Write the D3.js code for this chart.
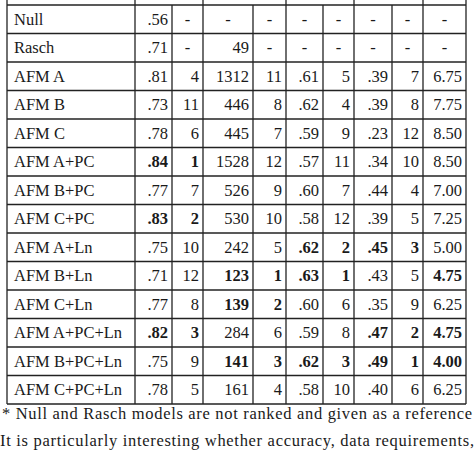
<!DOCTYPE html>
<html><head><meta charset="utf-8">
<script src="https://cdn.jsdelivr.net/npm/d3@7"></script>
<style>body{margin:0;background:#fff}svg{display:block}</style>
</head><body>
<svg id="c" width="474" height="474"></svg>
<script>
const models = ["Null","Rasch","AFM A","AFM B","AFM C","AFM A+PC","AFM B+PC","AFM C+PC","AFM A+Ln","AFM B+Ln","AFM C+Ln","AFM A+PC+Ln","AFM B+PC+Ln","AFM C+PC+Ln"]
const accuracy = [".56",".71",".81",".73",".78",".84",".77",".83",".75",".71",".77",".82",".75",".78"]
const accRank = ["-","-","4","11","6","1","7","2","10","12","8","3","9","5"]
const params = ["-","49","1312","446","445","1528","526","530","242","123","139","284","141","161"]
const paramRank = ["-","-","11","8","7","12","9","10","5","1","2","6","3","4"]
const auc = ["-","-",".61",".62",".59",".57",".60",".58",".62",".63",".60",".59",".62",".58"]
const aucRank = ["-","-","5","4","9","11","7","12","2","1","6","8","3","10"]
const kappa = ["-","-",".39",".39",".23",".34",".44",".39",".45",".43",".35",".47",".49",".40"]
const kappaRank = ["-","-","7","8","12","10","4","5","3","5","9","2","1","6"]
const avgRank = ["-","-","6.75","7.75","8.50","8.50","7.00","7.25","5.00","4.75","6.25","4.75","4.00","6.25"]
// bold cells: [row, col]
const bold = [[5,1],[5,2],[7,1],[7,2],[8,5],[8,6],[8,7],[8,8],[9,3],[9,4],[9,5],[9,6],[9,9],[10,3],[10,4],[11,1],[11,2],[11,7],[11,8],[11,9],[12,3],[12,4],[12,5],[12,6],[12,7],[12,8],[12,9]]
const footnote = "* Null and Rasch models are not ranked and given as a reference"
const bodyText = "It is particularly interesting whether accuracy, data requirements,"

const cols = [models, accuracy, accRank, params, paramRank, auc, aucRank, kappa, kappaRank, avgRank]
const colEdges = [7,135,172,203,253,286,323,354,392,423,466]
const svg = d3.select("#c")
const y = d3.scaleLinear().domain([0, models.length]).range([5, 404])
const boldSet = new Set(bold.map(d => d.join(",")))
const font = "'Liberation Serif','Times New Roman',serif"
const g = svg.append("g").attr("stroke","#222").attr("stroke-width",1.3)

// header stub
g.append("line").attr("x1",colEdges[0]).attr("x2",colEdges[10]).attr("y1",-1).attr("y2",-1)
;[0,1,3,5,7,9,10].forEach(i => g.append("line").attr("x1",colEdges[i]).attr("x2",colEdges[i]).attr("y1",-1).attr("y2",y(0)))
d3.range(models.length+1).forEach(r => g.append("line").attr("x1",colEdges[0]).attr("x2",colEdges[10]).attr("y1",y(r)).attr("y2",y(r)))
colEdges.forEach(x => g.append("line").attr("x1",x).attr("x2",x).attr("y1",y(0)).attr("y2",y(models.length)))

cols.forEach((col, c) => {
  svg.append("g").selectAll("text").data(col).join("text")
    .attr("font-family",font).attr("font-size",16.5).attr("fill","#1a1a1a")
    .attr("font-weight",(d,r) => boldSet.has(r+","+c) ? "bold" : "normal")
    .attr("y",(d,r) => (y(r)+y(r+1))/2 + 5.5)
    .attr("x", d => c===0 ? colEdges[0]+7 : d==="-" ? (colEdges[c]+colEdges[c+1])/2 : colEdges[c+1]-4)
    .attr("text-anchor", d => c===0 ? "start" : d==="-" ? "middle" : "end")
    .text(d => d)
})

svg.append("text").attr("x",2).attr("y",419).attr("font-family",font).attr("font-size",16.5).attr("fill","#1a1a1a")
  .attr("textLength",470).attr("lengthAdjust","spacing").text(footnote)
svg.append("text").attr("x",0).attr("y",446).attr("font-family",font).attr("font-size",16.5).attr("fill","#1a1a1a")
  .attr("textLength",474).attr("lengthAdjust","spacing").text(bodyText)
</script>
</body></html>
